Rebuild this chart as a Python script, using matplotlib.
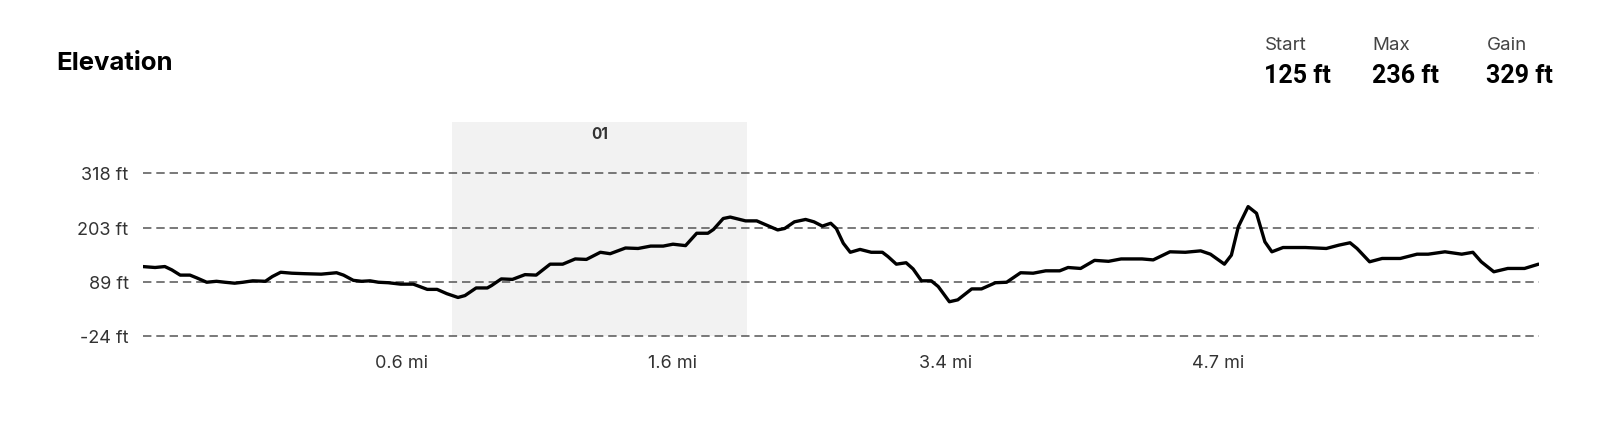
import matplotlib
matplotlib.use("Agg")
import matplotlib.pyplot as plt
from matplotlib.patches import Rectangle
from matplotlib import font_manager

# ---------------- data ----------------
# route position (percent of samples along the route) and elevation (ft)
route_pct = [0.0, 0.9, 1.6, 2.1, 2.7, 3.4, 3.9, 4.6, 5.3, 5.9, 6.6, 7.2, 7.9, 8.8,
             9.3, 9.9, 10.7, 11.6, 12.8, 13.9, 14.4, 15.1, 15.7, 16.3, 16.9, 17.6,
             18.5, 19.4, 20.4, 21.1, 21.8, 22.6, 23.1, 23.9, 24.7, 25.0, 25.7, 26.5,
             27.4, 28.2, 29.2, 30.1, 31.0, 31.8, 32.8, 33.5, 34.6, 35.5, 36.4, 37.3,
             38.0, 38.9, 39.7, 40.5, 40.9, 41.6, 42.1, 43.2, 44.0, 44.8, 45.5, 46.0,
             46.7, 47.5, 48.1, 48.7, 49.3, 49.7, 50.2, 50.7, 51.4, 52.2, 53.0, 53.4,
             54.0, 54.7, 55.2, 55.8, 56.5, 57.0, 57.8, 58.4, 59.4, 60.1, 61.1, 61.9,
             62.9, 63.8, 64.7, 65.7, 66.3, 67.2, 68.2, 69.2, 70.1, 71.6, 72.4, 73.6,
             74.7, 75.8, 76.5, 77.5, 78.0, 78.5, 79.2, 79.8, 80.4, 80.9, 81.7, 82.2,
             83.3, 84.8, 85.7, 86.5, 87.0, 87.9, 88.8, 90.1, 91.3, 92.1, 93.3, 94.5,
             95.3, 95.9, 96.8, 97.8, 99.0, 100.0]
elevation_ft = [122, 120, 122, 115, 104, 104, 98, 89, 91, 89, 87, 89, 92, 91,
                101, 110, 108, 107, 106, 109, 104, 93, 91, 92, 89, 88,
                85, 85, 74, 74, 65, 57, 61, 77, 77, 82, 96, 95,
                105, 104, 127, 127, 138, 137, 152, 149, 161, 160, 165, 165,
                169, 166, 192, 192, 200, 223, 226, 218, 218, 208, 199, 202,
                216, 221, 216, 207, 213, 202, 171, 152, 158, 152, 152, 143,
                127, 130, 117, 92, 92, 80, 48, 52, 75, 75, 88, 89,
                109, 108, 113, 113, 120, 118, 135, 133, 138, 138, 136, 153,
                152, 155, 148, 127, 146, 206, 248, 234, 174, 153, 162, 162,
                162, 160, 167, 172, 160, 132, 139, 139, 148, 148, 153, 148,
                152, 132, 111, 118, 118, 127]

y_ticks = [-24, 89, 203, 318]
y_tick_labels = ["-24 ft", "89 ft", "203 ft", "318 ft"]
x_ticks = [18.56, 37.99, 57.53, 77.08]
x_tick_labels = ["0.6 mi", "1.6 mi", "3.4 mi", "4.7 mi"]

segment_label = "01"
segment_start, segment_end = 22.15, 43.32

title = "Elevation"
stat_names = ["Start", "Max", "Gain"]
stat_values = ["125 ft", "236 ft", "329 ft"]


# ---------------- fonts ----------------
def bold_family():
    for fam in ["Roboto", "Lato", "Inter"]:
        try:
            p = font_manager.findfont(
                font_manager.FontProperties(family=fam, weight="bold"),
                fallback_to_default=False)
        except Exception:
            continue
        low = p.lower()
        if fam.lower() in low and ("bold" in low or "black" in low or "var" in low
                                   or "[" in low):
            return fam
    return "DejaVu Sans"


stat_family = bold_family()

# ---------------- figure ----------------
W, H = 1618, 436
fig = plt.figure(figsize=(W / 100, H / 100), dpi=100)
fig.patch.set_facecolor("white")

body_font = ["Inter", "DejaVu Sans"]

ax_left, ax_right = 142.5, 1538.5
ax_top, ax_bottom = 121.7, 336.0
ax = fig.add_axes([ax_left / W, 1 - ax_bottom / H,
                   (ax_right - ax_left) / W, (ax_bottom - ax_top) / H])
y_min, y_max = -24, 426.5
ax.set_xlim(0, 100)
ax.set_ylim(y_min, y_max)

for s in ax.spines.values():
    s.set_visible(False)

# segment shading
ax.add_patch(Rectangle((segment_start, y_min), segment_end - segment_start,
                       y_max - y_min, facecolor="#f2f2f2", edgecolor="none",
                       zorder=0))
ax.text((segment_start + segment_end) / 2, 399, segment_label, ha="center",
        va="center", fontsize=11, fontweight="bold", color="#333333",
        family=body_font)

# dashed grid lines
for yv in y_ticks:
    ax.axhline(yv, color="#555555", lw=1.1, ls=(0, (5.5, 3.2)), zorder=1,
               clip_on=False)

ax.plot(route_pct, elevation_ft, color="black", lw=2.4,
        solid_joinstyle="round", solid_capstyle="round", zorder=3)

ax.set_yticks(y_ticks)
ax.set_yticklabels(y_tick_labels)
ax.set_xticks(x_ticks)
ax.set_xticklabels(x_tick_labels)
ax.tick_params(axis="both", length=0, labelsize=13, colors="#333333")
ax.tick_params(axis="y", pad=10)
ax.tick_params(axis="x", pad=14)
for lab in ax.get_xticklabels() + ax.get_yticklabels():
    lab.set_family(body_font)

# title
fig.text(56 / W, 1 - 70 / H, title, ha="left", va="baseline",
         fontsize=18.5, fontweight="bold", color="black", family=body_font)

# stats
stat_x = [1264.5, 1372.5, 1486.5]
for xs, name, val in zip(stat_x, stat_names, stat_values):
    fig.text(xs / W, 1 - 50 / H, name, ha="left", va="baseline",
             fontsize=13.5, color="#444444", family=body_font)
    fig.text(xs / W, 1 - 82.7 / H, val, ha="left", va="baseline",
             fontsize=18, fontweight="bold", color="black",
             family=[stat_family, "DejaVu Sans"])

fig.savefig("out.png", dpi=100, facecolor="white")
